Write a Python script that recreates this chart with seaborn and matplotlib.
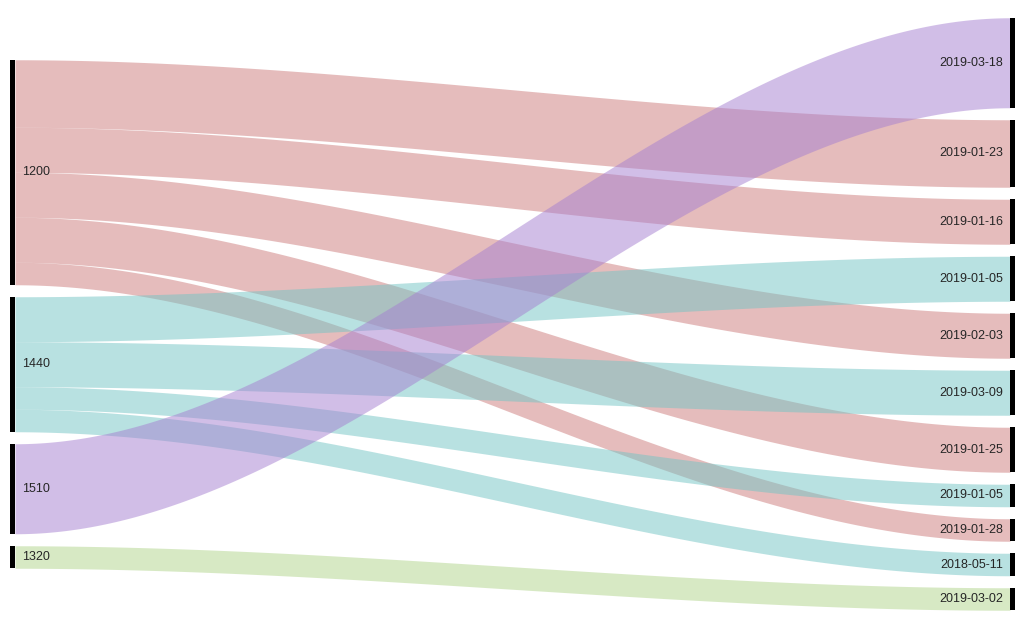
import numpy as np
import seaborn as sns
import matplotlib.pyplot as plt

sns.set_style('white')
plt.rcParams['font.family'] = ['Liberation Sans', 'DejaVu Sans']

# sources and targets (in drawing order) and flows
sources = ['1200', '1440', '1510', '1320']
targets = ['2019-03-18', '2019-01-23', '2019-01-16', '2019-01-05', '2019-02-03',
           '2019-03-09', '2019-01-25', '2019-01-05 ', '2019-01-28', '2018-05-11', '2019-03-02']
flow_src = ['1200', '1200', '1200', '1200', '1200', '1440', '1440', '1440', '1440', '1510', '1320']
flow_tgt = ['2019-01-23', '2019-01-16', '2019-02-03', '2019-01-25', '2019-01-28',
            '2019-01-05', '2019-03-09', '2019-01-05 ', '2018-05-11', '2019-03-18', '2019-03-02']
flow_val = [3, 2, 2, 2, 1, 2, 2, 1, 1, 4, 1]
src_colors = {'1200': '#cc7a7a', '1440': '#72c4c4', '1510': '#a57fd0', '1320': '#b0d48a'}

unit = 22.5
gap = 12
cy = 314
xl, xr = 15, 1010


def layout(nodes, ends):
    tot = {n: sum(v for e, v in zip(ends, flow_val) if e == n) for n in nodes}
    height = sum(tot.values()) * unit + gap * (len(nodes) - 1)
    y = cy - height / 2
    pos = {}
    for n in nodes:
        pos[n] = [y, y + tot[n] * unit]
        y += tot[n] * unit + gap
    return pos


spos = layout(sources, flow_src)
tpos = layout(targets, flow_tgt)

fig = plt.figure(figsize=(10.24, 6.28), dpi=100)
ax = fig.add_axes([0, 0, 1, 1])
ax.set_xlim(0, 1024)
ax.set_ylim(628, 0)
ax.axis('off')

s_off = {n: spos[n][0] for n in sources}
t_off = {n: tpos[n][0] for n in targets}
x = np.linspace(xl, xr, 200)
t = (x - xl) / (xr - xl)
t = 3 * t ** 2 - 2 * t ** 3
for s, tg, v in zip(flow_src, flow_tgt, flow_val):
    h = v * unit
    y0, y1 = s_off[s], t_off[tg]
    top = y0 + (y1 - y0) * t
    ax.fill_between(x, top, top + h, color=src_colors[s], alpha=0.5, lw=0)
    s_off[s] += h
    t_off[tg] += h

for n in sources:
    a, b = spos[n]
    ax.fill_between([10, 15], a, b, color='black', lw=0)
    ax.text(22, (a + b) / 2, n, va='center', ha='left', fontsize=9)
for n in targets:
    a, b = tpos[n]
    ax.fill_between([1010, 1015], a, b, color='black', lw=0)
    ax.text(1003, (a + b) / 2, n.strip(), va='center', ha='right', fontsize=9)

fig.savefig('out.png', dpi=100)
